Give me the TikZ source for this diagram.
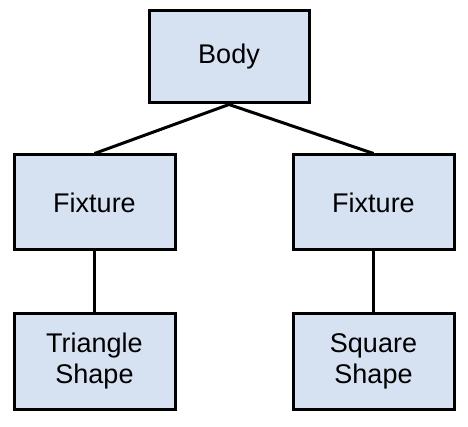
\documentclass[tikz,border=0pt]{standalone}
\usepackage{fontspec}
\setmainfont{Liberation Sans}
\definecolor{boxblue}{RGB}{214,225,242}

\begin{document}
\begin{tikzpicture}[x=1pt,y=-1pt,line width=3pt,box node/.style={rectangle,fill=boxblue,draw,align=center,inner sep=0pt,font=\fontsize{27}{31}\selectfont}]
  \fill[white] (0,0) rectangle (468,427);
  \useasboundingbox (0,0) rectangle (468,427);
  \node[box node,minimum width=160pt,minimum height=92pt] (body) at (229,57) {Body};
  \node[box node,minimum width=161pt,minimum height=95pt] (fix1) at (94.5,202.5) {Fixture};
  \node[box node,minimum width=161pt,minimum height=95pt] (fix2) at (373.5,202.5) {Fixture};
  \node[box node,minimum width=161pt,minimum height=96pt] (shape1) at (94.5,361) {Triangle\\Shape};
  \node[box node,minimum width=161pt,minimum height=96pt] (shape2) at (373.5,361) {Square\\Shape};

\path
  (body.south) edge (fix1.north)
  (body.south) edge (fix2.north)
  (fix1) edge (shape1)
  (fix2) edge (shape2)
;
\end{tikzpicture}
\end{document}
